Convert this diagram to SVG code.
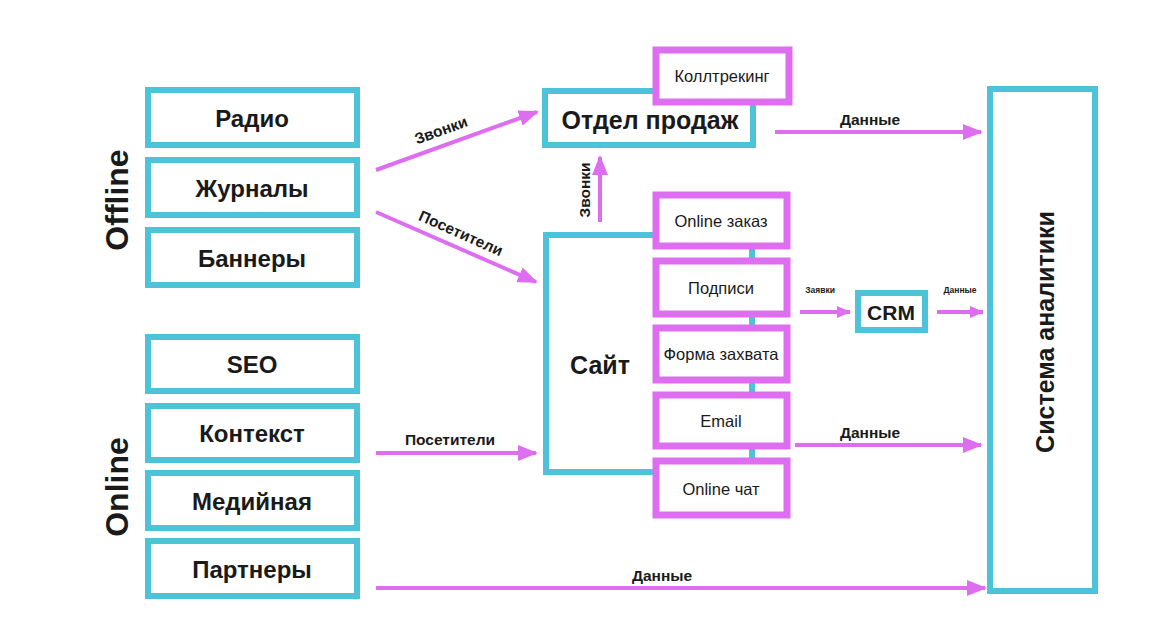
<svg xmlns="http://www.w3.org/2000/svg" width="1150" height="628" viewBox="0 0 1150 628">
<defs>
<marker id="ah" markerUnits="userSpaceOnUse" markerWidth="20" markerHeight="16" refX="18" refY="8" orient="auto">
<path d="M0,0 L20,8 L0,16 Z" fill="#DE6EF0"/>
</marker>
<marker id="ahs" markerUnits="userSpaceOnUse" markerWidth="14" markerHeight="12" refX="13" refY="6" orient="auto">
<path d="M0,0 L14,6 L0,12 Z" fill="#DE6EF0"/>
</marker>
</defs>
<style>
.cy{fill:#fff;stroke:#4CC3D8;stroke-width:6}
.pk{fill:#fff;stroke:#DE6EF0;stroke-width:7}
.t{font-family:"Liberation Sans",Arial,sans-serif;fill:#1a1a1a;text-anchor:middle;dominant-baseline:central}
.b22{font-size:24px;font-weight:bold}
.p15{font-size:16.5px}
.lb{font-size:15.5px;font-weight:bold}
.tiny{font-size:8.5px;font-weight:bold}
.ln{stroke:#DE6EF0;stroke-width:4;fill:none;marker-end:url(#ah)}
.lns{stroke:#DE6EF0;stroke-width:4;fill:none;marker-end:url(#ahs)}
</style>
<rect width="1150" height="628" fill="#fff"/>

<text class="t" font-size="32" font-weight="bold" transform="translate(117,200) rotate(-90)">Offline</text>
<text class="t" font-size="32" font-weight="bold" transform="translate(117,487) rotate(-90)">Online</text>

<g id="radio"><rect class="cy" x="148" y="90" width="209" height="55"/><text class="t b22" x="252" y="118">Радио</text></g>
<g id="zhurnaly"><rect class="cy" x="148" y="160" width="209" height="55"/><text class="t b22" x="252" y="188">Журналы</text></g>
<g id="bannery"><rect class="cy" x="148" y="230" width="209" height="55"/><text class="t b22" x="252" y="258">Баннеры</text></g>
<g id="seo"><rect class="cy" x="148" y="337" width="209" height="54"/><text class="t b22" x="252" y="364">SEO</text></g>
<g id="kontekst"><rect class="cy" x="148" y="406" width="209" height="54"/><text class="t b22" x="252" y="433">Контекст</text></g>
<g id="mediynaya"><rect class="cy" x="148" y="473" width="209" height="55"/><text class="t b22" x="252" y="501">Медийная</text></g>
<g id="partnery"><rect class="cy" x="148" y="541" width="209" height="55"/><text class="t b22" x="252" y="569">Партнеры</text></g>

<g id="otdel"><rect class="cy" x="545" y="91" width="208" height="54"/><text class="t" font-size="25" font-weight="bold" x="650" y="120">Отдел продаж</text></g>
<g id="kolltreking"><rect class="pk" x="656" y="50" width="133" height="52"/><text class="t p15" x="722" y="76">Коллтрекинг</text></g>

<g id="sait"><rect class="cy" x="546" y="235" width="206" height="237"/><text class="t" font-size="25" font-weight="bold" x="600" y="365">Сайт</text></g>
<g id="online-zakaz"><rect class="pk" x="656" y="195" width="131" height="51"/><text class="t p15" x="721" y="221">Online заказ</text></g>
<g id="podpisi"><rect class="pk" x="656" y="261" width="131" height="53"/><text class="t p15" x="721" y="288">Подписи</text></g>
<g id="forma"><rect class="pk" x="656" y="328" width="131" height="52"/><text class="t p15" x="721" y="354">Форма захвата</text></g>
<g id="email"><rect class="pk" x="656" y="395" width="131" height="51"/><text class="t p15" x="721" y="421">Email</text></g>
<g id="online-chat"><rect class="pk" x="656" y="461" width="131" height="54"/><text class="t p15" x="721" y="489">Online чат</text></g>

<g id="crm"><rect class="cy" x="858" y="293" width="67" height="37"/><text class="t" font-size="21" font-weight="bold" x="891" y="312">CRM</text></g>

<g id="analytics"><rect class="cy" x="990" y="89" width="105" height="502"/><text class="t" font-size="25" font-weight="bold" transform="translate(1045,332) rotate(-90)">Система аналитики</text></g>

<g id="connectors">
<line class="ln" x1="376" y1="170" x2="537" y2="112"/>
<text class="t lb" transform="translate(441,130) rotate(-20)">Звонки</text>
<line class="ln" x1="376" y1="212" x2="536" y2="282"/>
<text class="t lb" transform="translate(461,233) rotate(24)">Посетители</text>
<line class="ln" x1="600" y1="222" x2="600" y2="157"/>
<text class="t lb" transform="translate(584,190) rotate(-90)">Звонки</text>
<line class="ln" x1="376" y1="453" x2="536" y2="453"/>
<text class="t lb" x="450" y="439">Посетители</text>
<line class="ln" x1="775" y1="132" x2="981" y2="132"/>
<text class="t lb" x="870" y="119">Данные</text>
<line class="lns" x1="800" y1="312" x2="850" y2="312"/>
<text class="t tiny" x="820" y="290">Заявки</text>
<line class="lns" x1="937" y1="312" x2="983" y2="312"/>
<text class="t tiny" x="960" y="290">Данные</text>
<line class="ln" x1="795" y1="445" x2="981" y2="445"/>
<text class="t lb" x="870" y="432">Данные</text>
<line class="ln" x1="376" y1="588" x2="985" y2="588"/>
<text class="t lb" x="662" y="575">Данные</text>
</g>
</svg>
